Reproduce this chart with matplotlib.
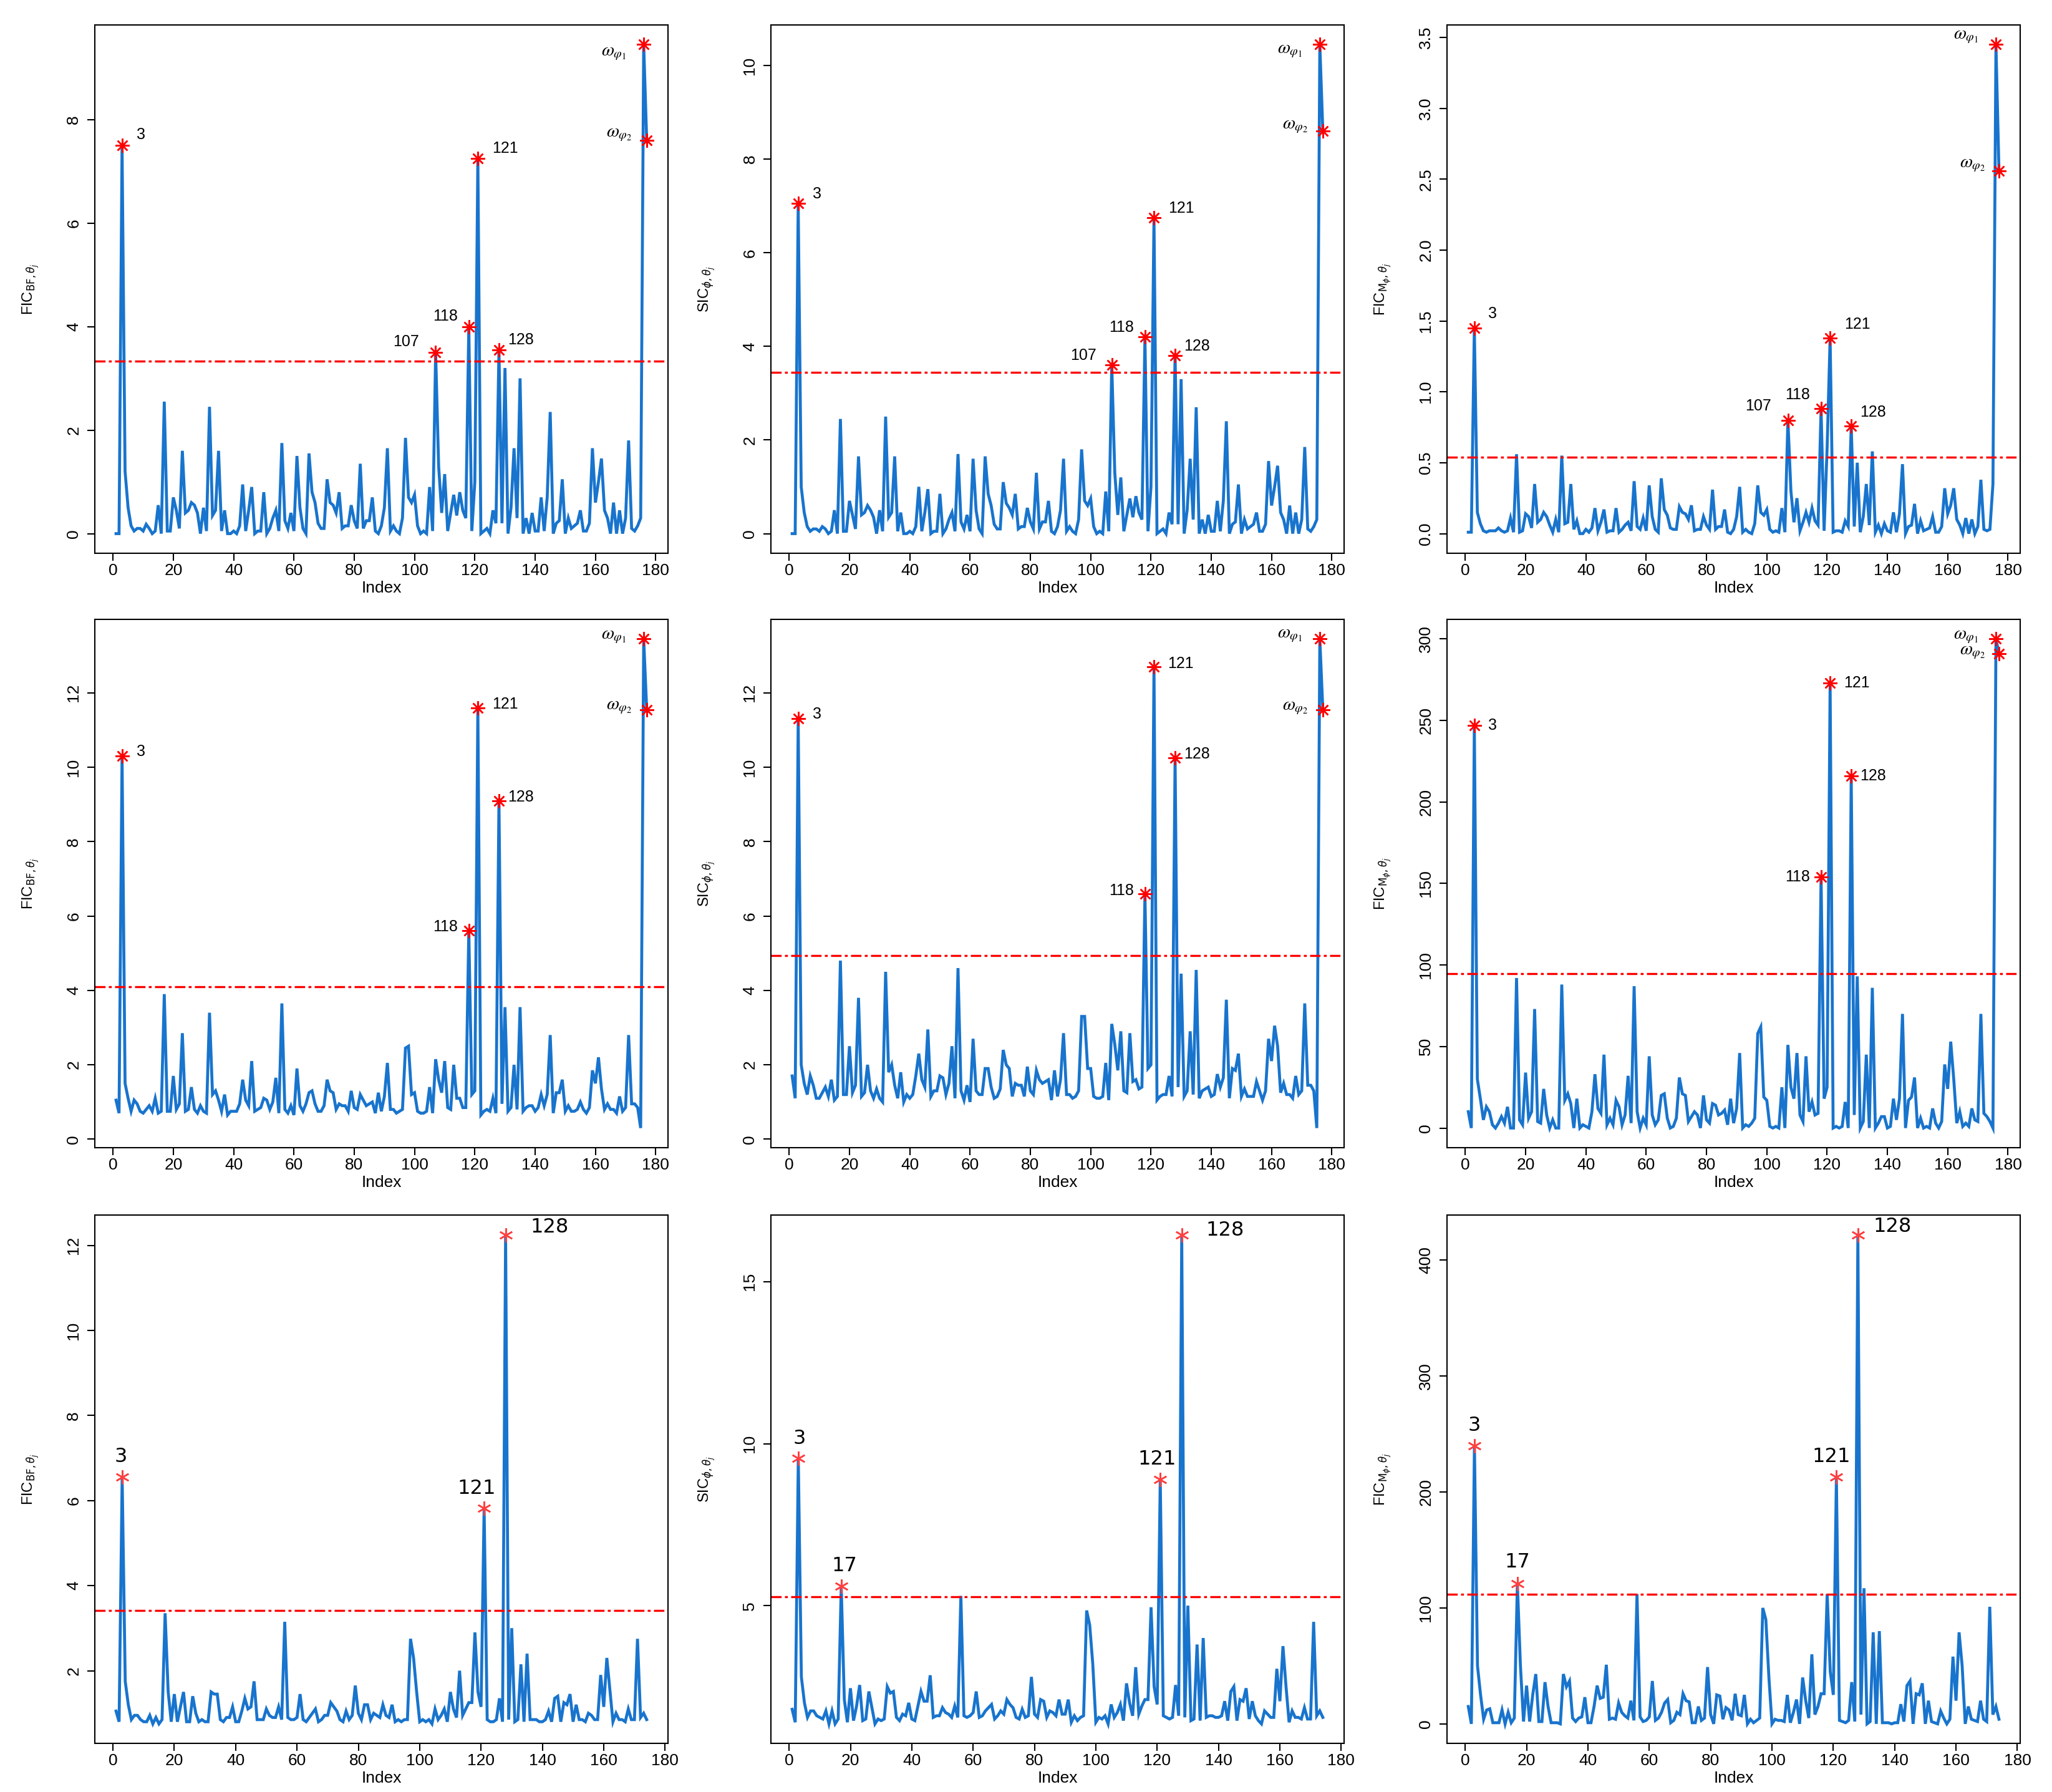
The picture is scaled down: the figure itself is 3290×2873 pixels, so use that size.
import numpy as np
import matplotlib
matplotlib.use("Agg")
import matplotlib.pyplot as plt

plt.rcParams['font.family'] = ['Liberation Sans', 'DejaVu Sans']

# ---- data (index starts at 1) ----
fic_bf_a = [
    0, 0, 7.5, 1.2, 0.5, 0.15, 0.05, 0.1, 0.1, 0.05,
    0.18, 0.1, 0.0, 0.05, 0.55, 0.0, 2.55, 0.05, 0.05, 0.7,
    0.45, 0.1, 1.6, 0.4, 0.45, 0.6, 0.55, 0.4, 0.0, 0.5,
    0.05, 2.45, 0.35, 0.45, 1.6, 0.05, 0.45, 0.0, 0.0, 0.05,
    0.0, 0.15, 0.95, 0.05, 0.45, 0.9, 0.0, 0.05, 0.05, 0.8,
    0.0, 0.1, 0.3, 0.45, 0.05, 1.75, 0.25, 0.1, 0.4, 0.05,
    1.5, 0.5, 0.1, 0.0, 1.55, 0.8, 0.6, 0.2, 0.1, 0.1,
    1.05, 0.6, 0.55, 0.4, 0.8, 0.1, 0.15, 0.15, 0.55, 0.25,
    0.1, 1.35, 0.1, 0.25, 0.25, 0.7, 0.05, 0.0, 0.15, 0.5,
    1.65, 0.05, 0.15, 0.05, 0.0, 0.3, 1.85, 0.7, 0.6, 0.75,
    0.15, 0.0, 0.05, 0.0, 0.9, 0.05, 3.5, 1.3, 0.4, 1.15,
    0.05, 0.4, 0.75, 0.35, 0.8, 0.45, 0.3, 4.0, 0.05, 1.0,
    7.25, 0.0, 0.05, 0.1, 0.0, 0.45, 0.2, 3.55, 0.2, 3.2,
    0.0, 0.5, 1.65, 0.3, 3.0, 0.0, 0.3, 0.0, 0.4, 0.05,
    0.05, 0.7, 0.05, 0.7, 2.35, 0.0, 0.2, 0.25, 1.05, 0.0,
    0.3, 0.1, 0.15, 0.2, 0.45, 0.05, 0.05, 0.2, 1.65, 0.6,
    1.0, 1.45, 0.45, 0.3, 0.0, 0.6, 0.0, 0.45, 0.0, 0.3,
    1.8, 0.1, 0.05, 0.15, 0.3, 9.45, 7.6]

sic_a = [
    0, 0, 7.05, 1.0, 0.45, 0.15, 0.05, 0.1, 0.1, 0.05,
    0.15, 0.1, 0.0, 0.05, 0.5, 0.0, 2.45, 0.05, 0.05, 0.7,
    0.4, 0.1, 1.65, 0.4, 0.45, 0.6, 0.5, 0.35, 0.0, 0.5,
    0.05, 2.5, 0.35, 0.45, 1.65, 0.05, 0.45, 0.0, 0.0, 0.05,
    0.0, 0.15, 1.0, 0.05, 0.45, 0.95, 0.0, 0.05, 0.05, 0.85,
    0.0, 0.1, 0.3, 0.45, 0.05, 1.7, 0.25, 0.1, 0.4, 0.05,
    1.6, 0.5, 0.1, 0.0, 1.65, 0.85, 0.6, 0.2, 0.1, 0.1,
    1.1, 0.65, 0.55, 0.4, 0.85, 0.1, 0.15, 0.15, 0.55, 0.25,
    0.1, 1.3, 0.1, 0.25, 0.25, 0.7, 0.05, 0.0, 0.15, 0.5,
    1.6, 0.05, 0.15, 0.05, 0.0, 0.3, 1.8, 0.7, 0.6, 0.75,
    0.15, 0.0, 0.05, 0.0, 0.9, 0.05, 3.6, 1.3, 0.4, 1.2,
    0.05, 0.4, 0.75, 0.35, 0.8, 0.45, 0.3, 4.2, 0.05, 1.0,
    6.75, 0.0, 0.05, 0.1, 0.0, 0.45, 0.2, 3.8, 0.2, 3.3,
    0.0, 0.5, 1.6, 0.3, 2.7, 0.0, 0.3, 0.0, 0.4, 0.05,
    0.05, 0.7, 0.05, 0.7, 2.4, 0.0, 0.2, 0.25, 1.05, 0.0,
    0.3, 0.1, 0.15, 0.2, 0.45, 0.05, 0.05, 0.2, 1.55, 0.6,
    1.0, 1.45, 0.45, 0.3, 0.0, 0.6, 0.0, 0.45, 0.0, 0.3,
    1.85, 0.1, 0.05, 0.15, 0.3, 10.45, 8.6]

fic_md_a = [
    0.01, 0.01, 1.45, 0.15, 0.07, 0.02, 0.01, 0.02, 0.02, 0.02,
    0.04, 0.02, 0.01, 0.02, 0.11, 0.01, 0.56, 0.01, 0.02, 0.14,
    0.12, 0.04, 0.35, 0.08, 0.1, 0.15, 0.12, 0.06, 0.01, 0.1,
    0.01, 0.55, 0.07, 0.08, 0.35, 0.03, 0.09, 0.0, 0.0, 0.03,
    0.01, 0.04, 0.18, 0.02, 0.08, 0.17, 0.01, 0.02, 0.02, 0.18,
    0.01, 0.03, 0.06, 0.08, 0.02, 0.37, 0.05, 0.03, 0.11, 0.02,
    0.34, 0.12, 0.03, 0.01, 0.39, 0.17, 0.13, 0.04, 0.03, 0.03,
    0.19, 0.15, 0.14, 0.1, 0.2, 0.02, 0.03, 0.03, 0.12, 0.06,
    0.03, 0.31, 0.03, 0.05, 0.05, 0.17, 0.01, 0.0, 0.03, 0.12,
    0.33, 0.01, 0.03, 0.01, 0.0, 0.07, 0.34, 0.15, 0.13, 0.17,
    0.03, 0.01, 0.02, 0.01, 0.18, 0.01, 0.8, 0.3, 0.08, 0.25,
    0.02, 0.08, 0.15, 0.08, 0.18, 0.09, 0.06, 0.88, 0.02, 0.6,
    1.38, 0.01, 0.02, 0.02, 0.01, 0.09, 0.05, 0.76, 0.05, 0.5,
    0.01, 0.12, 0.35, 0.06, 0.58, 0.01, 0.06, 0.0, 0.07, 0.02,
    0.01, 0.15, 0.01, 0.14, 0.49, 0.0, 0.05, 0.06, 0.21, 0.0,
    0.09, 0.02, 0.03, 0.04, 0.12, 0.01, 0.01, 0.05, 0.32, 0.14,
    0.2, 0.32, 0.1, 0.06, 0.0, 0.11, 0.0, 0.1, 0.0, 0.05,
    0.38, 0.03, 0.02, 0.03, 0.35, 3.45, 2.56]

fic_bf_b = [
    1.05, 0.7, 10.3, 1.5, 1.1, 0.75, 1.05, 0.95, 0.75, 0.7,
    0.8, 0.9, 0.75, 1.1, 0.7, 0.75, 3.9, 0.75, 0.75, 1.7,
    0.8, 0.95, 2.85, 0.75, 0.8, 1.4, 0.8, 0.7, 0.9, 0.75,
    0.7, 3.4, 1.2, 1.3, 1.05, 0.75, 1.2, 0.65, 0.75, 0.75,
    0.75, 0.95, 1.6, 1.05, 0.9, 2.1, 0.75, 0.8, 0.85, 1.1,
    1.05, 0.8, 1.0, 1.65, 0.7, 3.65, 0.8, 0.7, 0.9, 0.65,
    1.9, 0.9, 0.75, 0.95, 1.25, 1.3, 0.95, 0.75, 0.75, 0.9,
    1.6, 1.3, 1.25, 0.8, 0.95, 0.9, 0.9, 0.75, 1.3, 0.85,
    0.8, 1.2, 1.05, 0.9, 0.95, 1.0, 0.7, 1.25, 0.75, 1.15,
    2.05, 0.8, 0.8, 0.7, 0.75, 0.8, 2.45, 2.5, 1.2, 1.25,
    0.75, 0.7, 0.7, 0.75, 1.4, 0.7, 2.15, 1.6, 1.25, 2.1,
    0.85, 0.8, 2.0, 1.1, 1.1, 0.85, 0.85, 5.6, 1.2, 1.3,
    11.6, 0.65, 0.75, 0.8, 0.75, 1.1, 0.7, 9.1, 0.95, 3.55,
    0.75, 0.85, 2.0, 0.8, 3.55, 0.75, 0.85, 0.9, 0.9, 0.75,
    0.85, 1.2, 0.9, 1.2, 2.8, 0.7, 1.25, 1.25, 1.6, 0.75,
    0.9, 0.75, 0.75, 0.8, 1.0, 0.8, 0.7, 0.85, 1.85, 1.5,
    2.2, 1.35, 0.8, 0.95, 0.8, 0.8, 0.7, 1.15, 0.75, 0.85,
    2.8, 0.95, 0.95, 0.85, 0.3, 13.45, 11.55]

sic_b = [
    1.7, 1.1, 11.3, 2.0, 1.5, 1.2, 1.7, 1.45, 1.1, 1.1,
    1.25, 1.4, 1.15, 1.6, 1.05, 1.15, 4.8, 1.2, 1.2, 2.5,
    1.25, 1.45, 3.8, 1.15, 1.25, 2.0, 1.3, 1.1, 1.35, 1.1,
    1.0, 4.5, 1.8, 2.0, 1.45, 1.1, 1.8, 1.0, 1.2, 1.1,
    1.2, 1.7, 2.3, 1.6, 1.4, 2.95, 1.15, 1.3, 1.3, 1.7,
    1.65, 1.2, 1.5, 2.5, 1.1, 4.6, 1.3, 1.05, 1.45, 1.0,
    2.7, 1.3, 1.2, 1.2, 1.9, 1.9, 1.4, 1.1, 1.15, 1.35,
    2.4, 2.0, 1.9, 1.15, 1.5, 1.45, 1.45, 1.15, 1.95, 1.3,
    1.2, 1.85, 1.6, 1.5, 1.55, 1.6, 1.05, 1.85, 1.15, 1.6,
    2.85, 1.2, 1.2, 1.1, 1.15, 1.3, 3.3, 3.3, 1.9, 1.9,
    1.15, 1.1, 1.1, 1.15, 2.05, 1.05, 3.1, 2.55, 1.85, 2.9,
    1.3, 1.25, 2.85, 1.55, 1.6, 1.35, 1.4, 6.6, 1.9, 2.0,
    12.7, 1.05, 1.15, 1.2, 1.2, 1.7, 1.15, 10.25, 1.4, 4.45,
    1.15, 1.3, 2.9, 1.2, 4.55, 1.1, 1.3, 1.35, 1.4, 1.15,
    1.2, 1.75, 1.4, 1.65, 3.75, 1.1, 1.9, 1.85, 2.3, 1.15,
    1.35, 1.15, 1.15, 1.15, 1.55, 1.3, 1.05, 1.3, 2.7, 2.1,
    3.05, 2.5, 1.25, 1.5, 1.2, 1.2, 1.1, 1.7, 1.2, 1.3,
    3.65, 1.45, 1.45, 1.3, 0.3, 13.45, 11.55]

fic_md_b = [
    10, 0, 247, 30, 18, 5, 13, 10, 2, 0,
    3, 7, 3, 13, 0, 0, 92, 5, 2, 34,
    6, 10, 73, 4, 3, 24, 8, 0, 5, 0,
    0, 88, 17, 21, 15, 0, 18, 0, 2, 1,
    0, 10, 33, 12, 9, 45, 2, 6, 2, 17,
    13, 2, 8, 32, 3, 87, 10, 0, 6, 2,
    44, 8, 2, 5, 20, 21, 6, 0, 1, 6,
    31, 21, 20, 4, 7, 10, 8, 0, 20, 5,
    3, 15, 14, 8, 9, 11, 2, 18, 3, 12,
    46, 0, 2, 1, 3, 6, 58, 62, 19, 17,
    1, 0, 1, 0, 25, 0, 51, 25, 18, 46,
    8, 4, 44, 10, 16, 8, 9, 154, 18, 25,
    273, 0, 1, 0, 1, 16, 0, 216, 8, 93,
    0, 4, 45, 0, 86, 0, 3, 7, 7, 0,
    1, 18, 5, 18, 70, 0, 17, 19, 31, 0,
    6, 0, 1, 0, 12, 3, 0, 4, 39, 24,
    53, 30, 3, 10, 1, 3, 1, 12, 5, 4,
    70, 9, 7, 4, 0, 300, 291]

fic_bf_c = [
    1.05, 0.8, 6.55, 1.75, 1.2, 0.85, 0.95, 0.95, 0.85, 0.8,
    0.8, 0.95, 0.75, 0.9, 0.75, 0.85, 3.35, 1.5, 0.8, 1.45,
    0.8, 1.15, 1.5, 0.8, 0.8, 1.4, 1.0, 0.8, 0.85, 0.8,
    0.8, 1.5, 1.45, 1.45, 0.85, 0.8, 0.9, 0.9, 1.15, 0.8,
    0.8, 1.05, 1.35, 1.1, 1.15, 1.75, 0.85, 0.85, 0.85, 1.1,
    0.95, 0.9, 0.9, 1.15, 0.85, 3.15, 0.9, 0.85, 0.85, 0.9,
    1.45, 0.85, 0.8, 0.9, 1.0, 1.1, 0.8, 0.85, 0.95, 0.95,
    1.25, 1.15, 1.05, 0.85, 0.8, 1.05, 0.85, 0.95, 1.65, 1.0,
    0.85, 1.2, 1.2, 0.85, 1.0, 0.95, 0.9, 1.2, 0.95, 0.9,
    1.2, 0.8, 0.85, 0.8, 0.85, 0.85, 2.75, 2.3, 1.5, 0.8,
    0.85, 0.8, 0.85, 0.75, 1.1, 0.85, 0.95, 1.1, 0.8, 1.5,
    1.1, 0.9, 2.0, 0.95, 1.1, 1.25, 1.25, 2.9, 1.5, 1.15,
    5.82, 0.85, 0.8, 0.8, 0.85, 1.35, 0.8, 12.25, 0.85, 3.0,
    0.8, 0.85, 2.15, 0.8, 2.4, 0.85, 0.85, 0.85, 0.8, 0.8,
    0.85, 1.05, 0.8, 1.35, 1.4, 0.8, 1.25, 1.2, 1.45, 0.8,
    1.2, 0.85, 0.85, 0.8, 1.0, 0.95, 0.85, 0.85, 1.9, 1.15,
    2.3, 1.55, 0.8, 1.0, 0.85, 0.85, 0.8, 1.1, 0.85, 0.85,
    2.75, 0.9, 1.0, 0.85]

sic_c = [
    1.8, 1.4, 9.55, 2.8, 2.0, 1.55, 1.75, 1.75, 1.6, 1.55,
    1.5, 1.75, 1.35, 1.75, 1.35, 1.5, 5.6, 2.1, 1.4, 2.45,
    1.45, 1.9, 2.55, 1.45, 1.5, 2.35, 1.85, 1.35, 1.5, 1.45,
    1.5, 2.5, 2.3, 2.35, 1.55, 1.45, 1.65, 1.6, 2.0, 1.5,
    1.45, 1.9, 2.35, 2.05, 2.05, 2.85, 1.55, 1.6, 1.6, 1.85,
    1.7, 1.65, 1.55, 1.9, 1.55, 5.3, 1.6, 1.55, 1.6, 1.7,
    2.35, 1.55, 1.6, 1.75, 1.85, 1.95, 1.5, 1.6, 1.75, 1.65,
    2.1, 1.95, 1.85, 1.55, 1.5, 1.8, 1.55, 1.6, 2.8, 1.65,
    1.55, 2.1, 2.05, 1.55, 1.75, 1.7, 1.6, 2.1, 1.65, 1.65,
    2.1, 1.4, 1.6, 1.45, 1.55, 1.6, 4.85, 4.4, 3.2, 1.4,
    1.55, 1.5, 1.6, 1.35, 1.95, 1.55, 1.7, 1.95, 1.45, 2.6,
    2.0, 1.6, 3.1, 1.65, 1.9, 2.1, 2.1, 4.95, 2.5, 1.95,
    8.9, 1.6, 1.55, 1.5, 1.55, 2.55, 1.6, 16.45, 1.55, 5.0,
    1.45, 1.5, 3.8, 1.45, 4.0, 1.55, 1.6, 1.6, 1.55, 1.55,
    1.6, 2.05, 1.45, 2.35, 2.5, 1.45, 2.1, 2.05, 2.45, 1.5,
    2.05, 1.6, 1.45, 1.35, 1.75, 1.65, 1.55, 1.55, 3.05, 2.05,
    3.75, 2.5, 1.4, 1.75, 1.55, 1.55, 1.5, 1.85, 1.5, 1.5,
    4.5, 1.6, 1.75, 1.55]

fic_md_c = [
    15, 0, 240, 50, 25, 4, 12, 13, 1, 1,
    1, 12, 0, 10, 1, 5, 121, 50, 2, 33,
    2, 25, 43, 2, 2, 36, 15, 1, 1, 1,
    0, 43, 32, 37, 5, 2, 5, 6, 23, 1,
    1, 15, 33, 22, 23, 51, 4, 5, 4, 18,
    10, 7, 5, 20, 3, 112, 6, 2, 3, 6,
    37, 3, 5, 10, 18, 21, 1, 3, 10, 8,
    26, 20, 19, 1, 1, 15, 3, 5, 49, 8,
    0, 25, 24, 4, 14, 12, 3, 26, 8, 7,
    25, 0, 4, 1, 3, 5, 100, 90, 40, 0,
    4, 3, 3, 2, 25, 1, 10, 21, 0, 40,
    20, 5, 60, 8, 15, 26, 26, 112, 45, 25,
    213, 3, 2, 1, 3, 36, 2, 422, 8, 117,
    0, 2, 79, 0, 80, 1, 1, 1, 0, 1,
    1, 17, 2, 33, 37, 0, 26, 25, 35, 0,
    20, 2, 1, 0, 11, 5, 0, 4, 58, 20,
    79, 50, 0, 15, 4, 3, 2, 20, 4, 2,
    101, 8, 15, 4]

thresholds = [3.33, 3.45, 0.54, 4.1, 4.93, 94.5, 3.42, 5.28, 112]

y_labels = [r'FIC$_{\mathrm{BF},\theta_j}$', r'SIC$_{\phi,\theta_j}$',
            r'FIC$_{\mathrm{M}_\phi,\theta_j}$'] * 3

y_ticks = [
    [0, 2, 4, 6, 8], [0, 2, 4, 6, 8, 10], [0, 0.5, 1, 1.5, 2, 2.5, 3, 3.5],
    [0, 2, 4, 6, 8, 10, 12], [0, 2, 4, 6, 8, 10, 12], [0, 50, 100, 150, 200, 250, 300],
    [2, 4, 6, 8, 10, 12], [5, 10, 15], [0, 100, 200, 300, 400]]

om1 = r'$\omega_{\varphi_1}$'
om2 = r'$\omega_{\varphi_2}$'

# flagged points: (index, label, dx px, dy px)
flagged = [
    [(3, '3', 30, 17), (107, '107', -47, 17), (118, '118', -38, 17), (121, '121', 44, 16),
     (128, '128', 35, 16), (176, om1, -48, -14), (177, om2, -44, 10)],
    [(3, '3', 30, 15), (107, '107', -46, 15), (118, '118', -38, 15), (121, '121', 44, 15),
     (128, '128', 35, 15), (176, om1, -48, -10), (177, om2, -44, 8)],
    [(3, '3', 29, 23), (107, '107', -48, 23), (118, '118', -38, 22), (121, '121', 44, 22),
     (128, '128', 35, 22), (176, om1, -48, 13), (177, om2, -42, 10)],
    [(3, '3', 30, 7), (118, '118', -38, 6), (121, '121', 44, 6), (128, '128', 35, 6),
     (176, om1, -48, 4), (177, om2, -44, 5)],
    [(3, '3', 30, 7), (118, '118', -38, 5), (121, '121', 43, 5), (128, '128', 35, 6),
     (176, om1, -48, 6), (177, om2, -44, 4)],
    [(3, '3', 29, 0), (118, '118', -38, 0), (121, '121', 43, 0), (128, '128', 35, 0),
     (176, om1, -48, 4), (177, om2, -42, 3)],
    [(3, '3', -2, 33), (121, '121', -12, 32), (128, '128', 70, 12)],
    [(3, '3', 2, 31), (17, '17', 5, 33), (121, '121', -5, 32), (128, '128', 69, 7)],
    [(3, '3', 0, 32), (17, '17', 0, 34), (121, '121', -8, 32), (128, '128', 55, 13)],
]

series = [fic_bf_a, sic_a, fic_md_a, fic_bf_b, sic_b, fic_md_b, fic_bf_c, sic_c, fic_md_c]

fig = plt.figure(figsize=(32.9, 28.73), dpi=100)

lefts = [0.0462, 0.3757, 0.7052]
bottoms = [0.6913, 0.3596, 0.0271]
w, h = 0.2793, 0.2948

for k, y in enumerate(series):
    r, c = divmod(k, 3)
    ax = fig.add_axes([lefts[c], bottoms[r], w, h])
    y = np.array(y, dtype=float)
    n = len(y)
    x = np.arange(1, n + 1)

    ax.plot(x, y, color='#1874CD', lw=3.4, solid_joinstyle='miter')
    ax.axhline(thresholds[k], color='red', lw=2.4, linestyle=(0, (5, 1.6, 1.4, 1.6)))

    bottom_row = r == 2
    for idx, lab, dx, dy in flagged[k]:
        px, py = idx, y[idx - 1]
        if bottom_row:
            ax.plot(px, py, marker=(6, 2, 0), ms=16, mew=1.8, color='#FF4040', zorder=5)
            ax.annotate(lab, (px, py), xytext=(dx, dy), textcoords='offset pixels',
                        ha='center', va='center', fontsize=23, family='DejaVu Sans')
        else:
            ax.plot(px, py, marker=(8, 2, 0), ms=16, mew=1.8, color='red', zorder=5)
            if lab.startswith('$'):
                ax.annotate(lab, (px, py), xytext=(dx, dy), textcoords='offset pixels',
                            ha='center', va='center', fontsize=21, math_fontfamily='stix')
            else:
                ax.annotate(lab, (px, py), xytext=(dx, dy), textcoords='offset pixels',
                            ha='center', va='center', fontsize=18)

    pad_x = 0.04 * (n - 1)
    ax.set_xlim(1 - pad_x, n + pad_x)
    lo, hi = y.min(), y.max()
    ax.set_ylim(lo - 0.04 * (hi - lo), hi + 0.04 * (hi - lo))

    ax.set_xticks(range(0, 181, 20))
    ax.set_yticks(y_ticks[k])
    if c == 2 and r == 0:
        ax.set_yticklabels([f'{t:.1f}' for t in y_ticks[k]])
    else:
        ax.set_yticklabels([str(t) for t in y_ticks[k]])

    ax.tick_params(axis='both', direction='out', length=8.6, width=1.5, labelsize=19)
    ax.tick_params(axis='x', pad=3)
    ax.tick_params(axis='y', pad=7)
    for lbl in ax.get_yticklabels():
        lbl.set_rotation(90)
        lbl.set_va('center')
    for sp in ax.spines.values():
        sp.set_linewidth(1.5)

    ax.set_xlabel('Index', fontsize=19)
    ax.xaxis.set_label_coords(0.5, -0.052)
    ax.set_ylabel(y_labels[k], fontsize=17)
    ax.yaxis.set_label_coords(-0.095, 0.5)

fig.savefig('out.png', dpi=100, facecolor='white')
